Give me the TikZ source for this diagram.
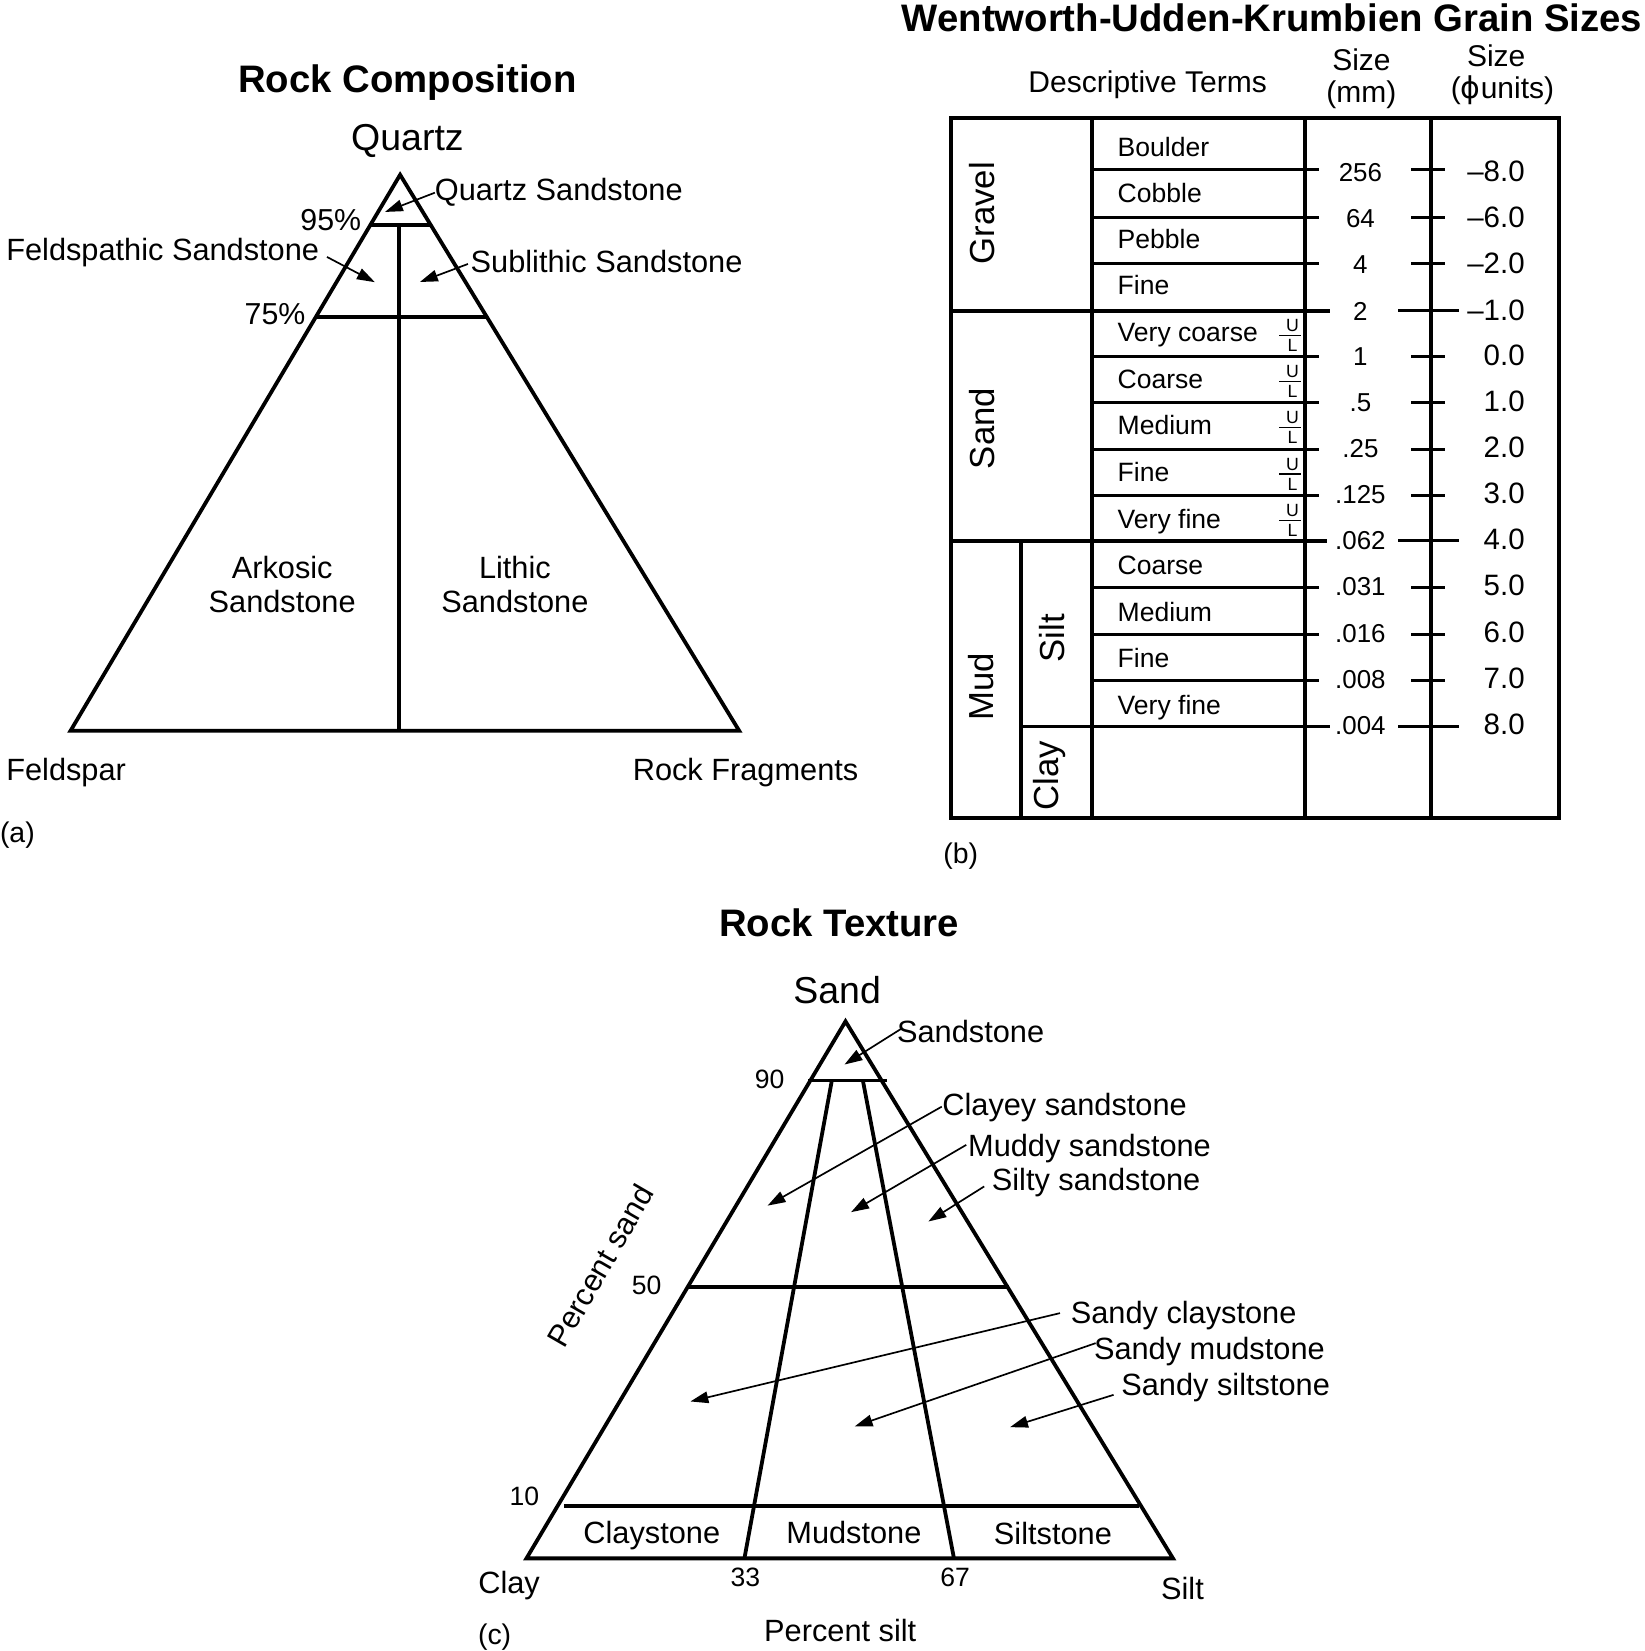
\documentclass[tikz,border=0pt]{standalone}
\usepackage{fontspec}
\setmainfont{Liberation Sans}
\newfontfamily\djv{DejaVu Sans}
\usetikzlibrary{arrows.meta,calc}
\begin{document}
\begin{tikzpicture}[x=0.5pt,y=-0.5pt,
  every node/.style={inner sep=0pt,outer sep=0pt},
  ttl/.style={font=\fontsize{18.2}{20}\selectfont\bfseries,anchor=base},
  big/.style={font=\fontsize{17.8}{20}\selectfont,anchor=base},
  lab/.style={font=\fontsize{14.6}{17}\selectfont,anchor=base west},
  labc/.style={font=\fontsize{14.6}{17}\selectfont,anchor=base},
  pct/.style={font=\fontsize{14.4}{16}\selectfont,anchor=base east},
  term/.style={font=\fontsize{12.6}{15}\selectfont,anchor=base west},
  hdr/.style={font=\fontsize{14.25}{17}\selectfont,anchor=base},
  grp/.style={font=\fontsize{16.5}{19}\selectfont,anchor=base,rotate=90},
  mmv/.style={font=\fontsize{12.3}{15}\selectfont,anchor=base},
  phv/.style={font=\fontsize{14}{16}\selectfont,anchor=base east},
  ulv/.style={font=\fontsize{8.4}{10}\selectfont,anchor=base},
  smn/.style={font=\fontsize{12.6}{15}\selectfont,anchor=base},
  plab/.style={font=\fontsize{13.5}{16}\selectfont,anchor=base west},
  tri/.style={line width=1.8pt},
  tbl/.style={line width=1.9pt},
  rowl/.style={line width=1.4pt},
  tinyl/.style={line width=0.6pt},
  arr/.style={line width=0.8pt,-{Triangle[length=8.5pt,width=5.5pt]}}
]
\useasboundingbox (0,0) rectangle (1562,1568);

% ---------------- Panel (a)
\node[ttl] (ta) at (387,88) {Rock Composition};
\node[big] (quartz) at (387,142.5) {Quartz};
\coordinate (qA) at (380,166);
\coordinate (qL) at (67,694);
\coordinate (qR) at (702,694);
\draw[tri] (qA) -- (qL) -- (qR) -- cycle;
\draw[tri] ($(qA)!0.09!(qL)$) -- ($(qA)!0.09!(qR)$);
\draw[tri] ($(qA)!0.2557!(qL)$) -- ($(qA)!0.2557!(qR)$);
\draw[tri] (379,213.6) -- (379,694);
\node[pct] (p95) at (343,218.5) {95\%};
\node[pct] (p75) at (290,308) {75\%};
\node[lab] (fs) at (6,247) {Feldspathic Sandstone};
\node[lab] (qs) at (413,190.5) {Quartz Sandstone};
\node[lab] (ss) at (447,258.5) {Sublithic Sandstone};
\coordinate (qs0) at (413,183);   \coordinate (qs1) at (365.6,201.3);
\coordinate (fs0) at (310.5,244); \coordinate (fs1) at (356,268);
\coordinate (ss0) at (444.4,250.7); \coordinate (ss1) at (398.8,267.8);
\draw[arr] (qs0) -- (qs1);
\draw[arr] (fs0) -- (fs1);
\draw[arr] (ss0) -- (ss1);
\node[labc] (ark1) at (268,549.5) {Arkosic};
\node[labc] (ark2) at (268,581.5) {Sandstone};
\node[labc] (lit1) at (489,549.5) {Lithic};
\node[labc] (lit2) at (489,581.5) {Sandstone};
\node[lab] (feld) at (6,741.5) {Feldspar};
\node[lab] (rf) at (601,741.5) {Rock Fragments};
\node[plab] (pa) at (0,800) {(a)};

% ---------------- Panel (b)
\node[ttl] (tb) at (1208,30) {Wentworth-Udden-Krumbien Grain Sizes};
\node[hdr] (dt) at (1090,88) {Descriptive Terms};
\node[hdr] (s1a) at (1293,67) {Size};
\node[hdr] (s1b) at (1293,97.5) {(mm)};
\node[hdr] (s2a) at (1421,63) {Size};
\node[hdr] (s2b) at (1427,94) {({\djv ϕ}units)};

\draw[tbl] (903,112) rectangle (1481,777);
\draw[tbl] (1037,112) -- (1037,777);
\draw[tbl] (1239.5,112) -- (1239.5,777);
\draw[tbl] (1359.5,112) -- (1359.5,777);
\draw[tbl] (969.5,513.7) -- (969.5,777);
\draw[tbl] (903,295.3) -- (1263,295.3);
\draw[tbl] (903,513.7) -- (1260,513.7);
\draw[rowl] (969.5,690) -- (1263,690);
\foreach \y in {161.4,206.4,250.7,338.7,382.4,426.7,470.7,558,602.3,646.4}{
  \draw[rowl] (1037,\y) -- (1253,\y);
  \draw[rowl] (1340.5,\y) -- (1372,\y);
}
\foreach \y in {295.3,513.7,690}{
  \draw[rowl] (1328,\y) -- (1386,\y);
}

\node[grp] (gravel) at (944.8,202.7) {Gravel};
\node[grp] (sand) at (944.8,407) {Sand};
\node[grp] (mud) at (943.3,652.4) {Mud};
\node[grp] (silt) at (1011,606.3) {Silt};
\node[grp] (clay) at (1005,736.5) {Clay};

\foreach \y/\t [count=\i] in {149/Boulder,192.5/Cobble,236/Pebble,280/Fine,324.4/Very coarse,368.7/Coarse,413/Medium,457/Fine,501.5/Very fine,545.7/Coarse,590/Medium,634/Fine,678.4/Very fine}{
  \node[term] (term\i) at (1061.5,\y) {\t};
}

\foreach \t [count=\i] in {295.3,338.7,382.4,426.7,470.7}{
  \node[ulv] (u\i) at (1227.5,\t+20) {U};
  \node[ulv] (l\i) at (1227.5,\t+39) {L};
  \draw[tinyl] (1215,\t+23.5) -- (1236,\t+23.5);
}

\foreach \y/\a/\b [count=\i] in {172.5/256/\textendash8.0,216/64/\textendash6.0,260/4/\textendash2.0,304/2/\textendash1.0,347.5/1/0.0,391/.5/1.0,434.5/.25/2.0,478/.125/3.0,522/.062/4.0,565.5/.031/5.0,610/.016/6.0,654/.008/7.0,698/.004/8.0}{
  \node[mmv] (sz\i) at (1292,\y) {\a};
  \node[phv] (ph\i) at (1448,\y) {\b};
}
\node[plab] (pb) at (896,820) {(b)};

% ---------------- Panel (c)
\node[ttl] (tc) at (797,889) {Rock Texture};
\node[big] (sandtop) at (795,953) {Sand};
\coordinate (sA) at (803,970);
\coordinate (sL) at (500,1480);
\coordinate (sR) at (1114,1480);
\draw[tri] (sA) -- (sL) -- (sR) -- cycle;
\draw[tri] (767.6,1026.2) -- (842.6,1026.2);
\draw[tri] (790,1026.2) -- (707,1480);
\draw[tri] (819.5,1026.2) -- (906,1480);
\draw[tri] (652,1222) -- (958,1222);
\draw[tri] (536,1430) -- (1082,1430);

\node[lab] (sst) at (852,990.5) {Sandstone};
\node[lab] (cs) at (895,1059) {Clayey sandstone};
\node[lab] (ms) at (919.5,1098) {Muddy sandstone};
\node[lab] (sis) at (942,1131) {Silty sandstone};
\node[lab] (scs) at (1017,1257) {Sandy claystone};
\node[lab] (sms) at (1039,1291) {Sandy mudstone};
\node[lab] (sss) at (1065,1325.5) {Sandy siltstone};

\coordinate (a10) at (856,977);     \coordinate (a11) at (802,1011);
\coordinate (a20) at (894.4,1051);  \coordinate (a21) at (729,1145);
\coordinate (a30) at (917.7,1087.3);\coordinate (a31) at (808.3,1151.2);
\coordinate (a40) at (934.7,1126.8);\coordinate (a41) at (881.7,1160.1);
\coordinate (a50) at (1006.7,1247.1);\coordinate (a51) at (655.7,1331);
\coordinate (a60) at (1040.6,1275.6);\coordinate (a61) at (811.7,1354.7);
\coordinate (a70) at (1057.6,1324.7);\coordinate (a71) at (959.3,1355.4);
\foreach \i in {1,...,7}{ \draw[arr] (a\i0) -- (a\i1); }

\node[smn] (n90) at (731,1034) {90};
\node[smn] (n50) at (614,1229) {50};
\node[smn] (n10) at (498,1430) {10};
\node[font=\fontsize{14.6}{17}\selectfont,rotate=60] (psand) at (570,1202) {Percent sand};
\node[labc] (cst) at (619,1465.5) {Claystone};
\node[labc] (mst) at (811,1465.5) {Mudstone};
\node[labc] (slt) at (1000,1467) {Siltstone};
\node[labc] (clayc) at (483.5,1513) {Clay};
\node[smn] (n33) at (708,1507) {33};
\node[smn] (n67) at (907,1507) {67};
\node[labc] (siltc) at (1123,1519.5) {Silt};
\node[plab] (pc) at (454,1562) {(c)};
\node[labc] (psilt) at (798,1558.5) {Percent silt};
\end{tikzpicture}
\end{document}
